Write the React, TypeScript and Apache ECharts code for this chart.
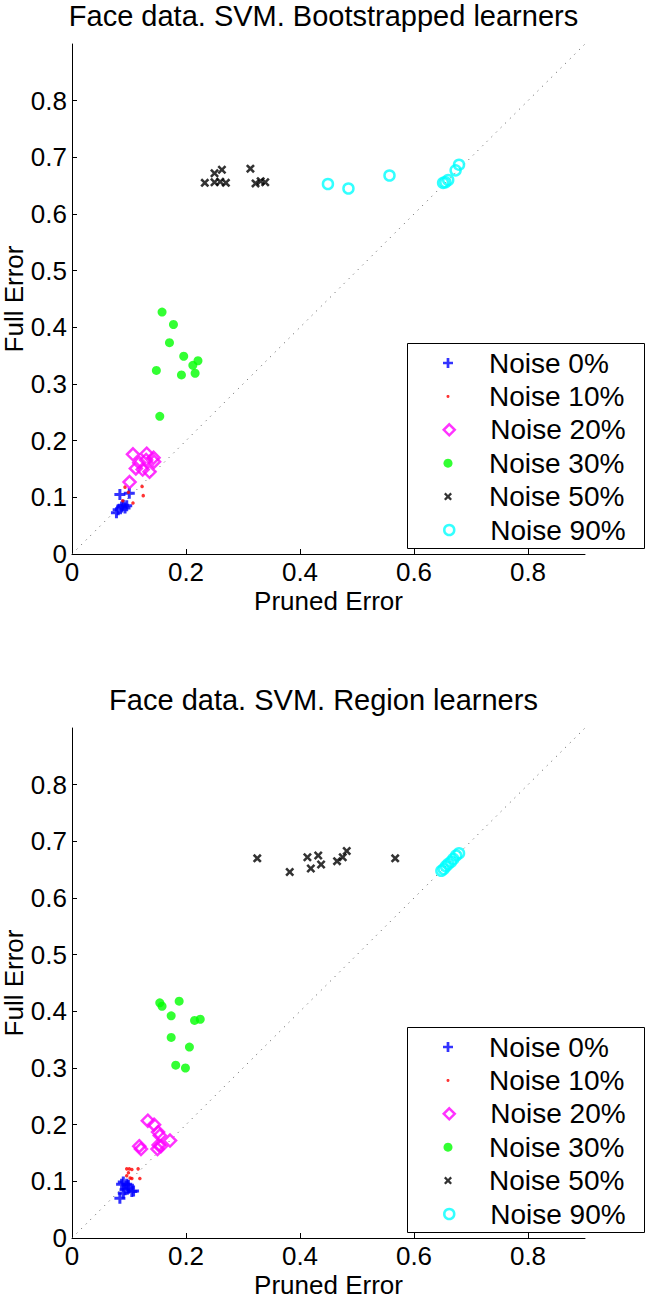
import React, { useEffect, useRef } from 'react';
import * as echarts from 'echarts';

const FONT = '"Liberation Sans", Arial, Helvetica, sans-serif';

// ---------- data ----------
const X_TICKS = [0, 0.2, 0.4, 0.6, 0.8];
const Y_TICKS = [0, 0.1, 0.2, 0.3, 0.4, 0.5, 0.6, 0.7, 0.8];
const AXIS_MAX = 0.9;
const DIAGONAL = [[0, 0], [0.9, 0.9]];
const TITLES = ['Face data. SVM. Bootstrapped learners', 'Face data. SVM. Region learners'];
const X_NAME = 'Pruned Error';
const Y_NAME = 'Full Error';
const NAMES = ['Noise 0%', 'Noise 10%', 'Noise 20%', 'Noise 30%', 'Noise 50%', 'Noise 90%'];

// Bootstrapped learners (top chart): [pruned error, full error]
const bootNoise0 = [[0.084, 0.105], [0.1005, 0.107], [0.090, 0.086], [0.096, 0.085], [0.081, 0.078], [0.078, 0.073], [0.087, 0.083], [0.093, 0.081]];
const bootNoise10 = [[0.093, 0.118], [0.123, 0.119], [0.125, 0.103], [0.107, 0.090], [0.099, 0.109], [0.089, 0.094]];
const bootNoise20 = [[0.107, 0.176], [0.131, 0.177], [0.143, 0.170], [0.118, 0.161], [0.144, 0.163], [0.112, 0.151], [0.124, 0.149], [0.136, 0.145], [0.130, 0.166], [0.101, 0.127]];
const bootNoise30 = [[0.158, 0.427], [0.178, 0.405], [0.171, 0.373], [0.196, 0.349], [0.221, 0.341], [0.212, 0.333], [0.148, 0.324], [0.192, 0.316], [0.216, 0.319], [0.154, 0.243]];
const bootNoise50 = [[0.233, 0.655], [0.250, 0.672], [0.263, 0.678], [0.250, 0.656], [0.260, 0.657], [0.270, 0.655], [0.313, 0.680], [0.322, 0.654], [0.331, 0.658], [0.339, 0.656]];
const bootNoise90 = [[0.449, 0.653], [0.485, 0.645], [0.557, 0.668], [0.651, 0.655], [0.655, 0.656], [0.660, 0.660], [0.673, 0.677], [0.679, 0.687]];

// Region learners (bottom chart)
const regNoise0 = [[0.090, 0.099], [0.096, 0.095], [0.099, 0.088], [0.093, 0.085], [0.105, 0.082], [0.090, 0.079], [0.084, 0.070], [0.099, 0.093], [0.108, 0.083], [0.087, 0.095]];
const regNoise10 = [[0.096, 0.122], [0.1005, 0.122], [0.105, 0.121], [0.116, 0.122], [0.099, 0.115], [0.096, 0.110], [0.102, 0.106], [0.105, 0.105], [0.119, 0.105]];
const regNoise20 = [[0.133, 0.207], [0.144, 0.200], [0.151, 0.187], [0.154, 0.181], [0.172, 0.172], [0.118, 0.162], [0.121, 0.157], [0.152, 0.164], [0.150, 0.157], [0.156, 0.162]];
const regNoise30 = [[0.154, 0.415], [0.158, 0.409], [0.188, 0.418], [0.174, 0.392], [0.215, 0.384], [0.225, 0.386], [0.174, 0.354], [0.206, 0.337], [0.182, 0.305], [0.199, 0.300]];
const regNoise50 = [[0.325, 0.670], [0.382, 0.646], [0.413, 0.672], [0.432, 0.675], [0.419, 0.652], [0.437, 0.659], [0.465, 0.665], [0.475, 0.672], [0.482, 0.683], [0.567, 0.670]];
const regNoise90 = [[0.648, 0.648], [0.652, 0.651], [0.656, 0.656], [0.660, 0.660], [0.665, 0.664], [0.669, 0.669], [0.674, 0.675], [0.679, 0.679]];

const CHART_DATA = [
  [bootNoise0, bootNoise10, bootNoise20, bootNoise30, bootNoise50, bootNoise90],
  [regNoise0, regNoise10, regNoise20, regNoise30, regNoise50, regNoise90],
];

// ---------- styles ----------
const PLUS = 'path://M4 0H7V4H11V7H7V11H4V7H0V4H4Z';
const CROSS = 'path://M2 0L5 3L8 0L10 2L7 5L10 8L8 10L5 7L2 10L0 8L3 5L0 2Z';
const MARKERS = [
  { symbol: PLUS, size: 11, color: '#0000ff', hollow: false, legendSize: 10 },
  { symbol: 'circle', size: 3.5, color: '#ff0000', hollow: false, legendSize: 3 },
  { symbol: 'diamond', size: 12, color: '#ff00ff', hollow: true, legendSize: 11 },
  { symbol: 'circle', size: 9, color: '#00ff00', hollow: false, legendSize: 9 },
  { symbol: CROSS, size: 9, color: '#000000', hollow: false, legendSize: 8 },
  { symbol: 'circle', size: 10, color: '#00ffff', hollow: true, legendSize: 10 },
];

const GRID_LEFT = 72;
const GRID_TOPS = [44, 728];
const GRID_W = 513;
const GRID_H = 510;
const LEGEND_BOX = { x: 407, w: 237, h: 205, tops: [343, 1027] };
const FS = 28;
const AXIS_FS = 26;

function buildOption() {
  const grids = GRID_TOPS.map((t) => ({
    left: GRID_LEFT, top: t, width: GRID_W, height: GRID_H,
    containLabel: false, outerBoundsMode: 'none',
  }));
  const axisCommon = {
    type: 'value',
    min: 0,
    max: AXIS_MAX,
    nameLocation: 'middle',
    nameMoveOverlap: false,
    nameTextStyle: { fontSize: AXIS_FS, fontFamily: FONT, color: '#000', lineHeight: 22 },
    axisLine: { show: true, onZero: false, lineStyle: { color: '#000', width: 1 } },
    splitLine: { show: false },
  };
  const xAxes = [0, 1].map((g) => ({
    ...axisCommon,
    gridIndex: g,
    name: X_NAME,
    nameGap: 35.5,
    axisTick: { show: true, inside: true, length: 5, customValues: X_TICKS, lineStyle: { color: '#000' } },
    axisLabel: { customValues: X_TICKS, fontSize: AXIS_FS, fontFamily: FONT, color: '#000', lineHeight: 22, margin: 6.5, formatter: (v: number) => String(v) },
  }));
  const yAxes = [0, 1].map((g) => ({
    ...axisCommon,
    gridIndex: g,
    name: Y_NAME,
    nameGap: 47,
    axisTick: { show: true, inside: true, length: 5, customValues: Y_TICKS, lineStyle: { color: '#000' } },
    axisLabel: { customValues: Y_TICKS, fontSize: AXIS_FS, fontFamily: FONT, color: '#000', margin: 5, formatter: (v: number) => String(v) },
  }));

  const series: any[] = [];
  const legends: any[] = [];
  [0, 1].forEach((g) => {
    series.push({
      type: 'line',
      xAxisIndex: g,
      yAxisIndex: g,
      data: DIAGONAL,
      symbol: 'none',
      silent: true,
      lineStyle: { color: '#555', width: 1, type: [1, 5.5] },
      z: 1,
    });
    CHART_DATA[g].forEach((d, i) => {
      const m = MARKERS[i];
      series.push({
        type: 'scatter',
        name: NAMES[i],
        xAxisIndex: g,
        yAxisIndex: g,
        data: d,
        symbol: m.symbol,
        symbolSize: m.size,
        itemStyle: m.hollow
          ? { color: 'rgba(0,0,0,0)', borderColor: m.color, borderWidth: 2.5 }
          : { color: m.color, borderWidth: 0 },
        emphasis: { disabled: true },
        z: 2,
      });
      const w = m.legendSize;
      legends.push({
        data: [{ name: NAMES[i] }],
        orient: 'vertical',
        left: 448 - w / 2,
        top: LEGEND_BOX.tops[g] + 20 + 33.4 * i - 15,
        padding: 0,
        itemWidth: w,
        itemHeight: w,
        selectedMode: false,
        z: 5,
        itemStyle: m.hollow
          ? { color: 'rgba(0,0,0,0)', borderColor: m.color, borderWidth: 2.5 }
          : { color: m.color, borderWidth: 0 },
        textStyle: { fontSize: FS, fontFamily: FONT, color: '#000', lineHeight: 30, padding: [0, 0, 0, 36 - w / 2] },
      });
    });
  });

  return {
    animation: false,
    backgroundColor: '#fff',
    title: TITLES.map((t, g) => ({
      text: t,
      left: 'center',
      top: GRID_TOPS[g] - 43,
      padding: 0,
      textStyle: { fontSize: 29, fontWeight: 'normal', fontFamily: FONT, color: '#000' },
    })),
    grid: grids,
    xAxis: xAxes,
    yAxis: yAxes,
    legend: legends,
    graphic: LEGEND_BOX.tops.map((t) => ({
      type: 'rect',
      z: 3,
      shape: { x: LEGEND_BOX.x + 0.5, y: t + 0.5, width: LEGEND_BOX.w, height: LEGEND_BOX.h },
      style: { fill: '#fff', stroke: '#000', lineWidth: 1 },
    })),
    series,
  };
}

export default function App() {
  const ref = useRef<HTMLDivElement>(null);
  useEffect(() => {
    if (!ref.current) return;
    const chart = echarts.init(ref.current, null, { renderer: 'svg' });
    chart.setOption(buildOption() as any);
    return () => chart.dispose();
  }, []);
  return (
    <div
      ref={ref}
      style={{ position: 'absolute', left: 0, top: 0, width: 647, height: 1299, background: '#fff' }}
    />
  );
}
